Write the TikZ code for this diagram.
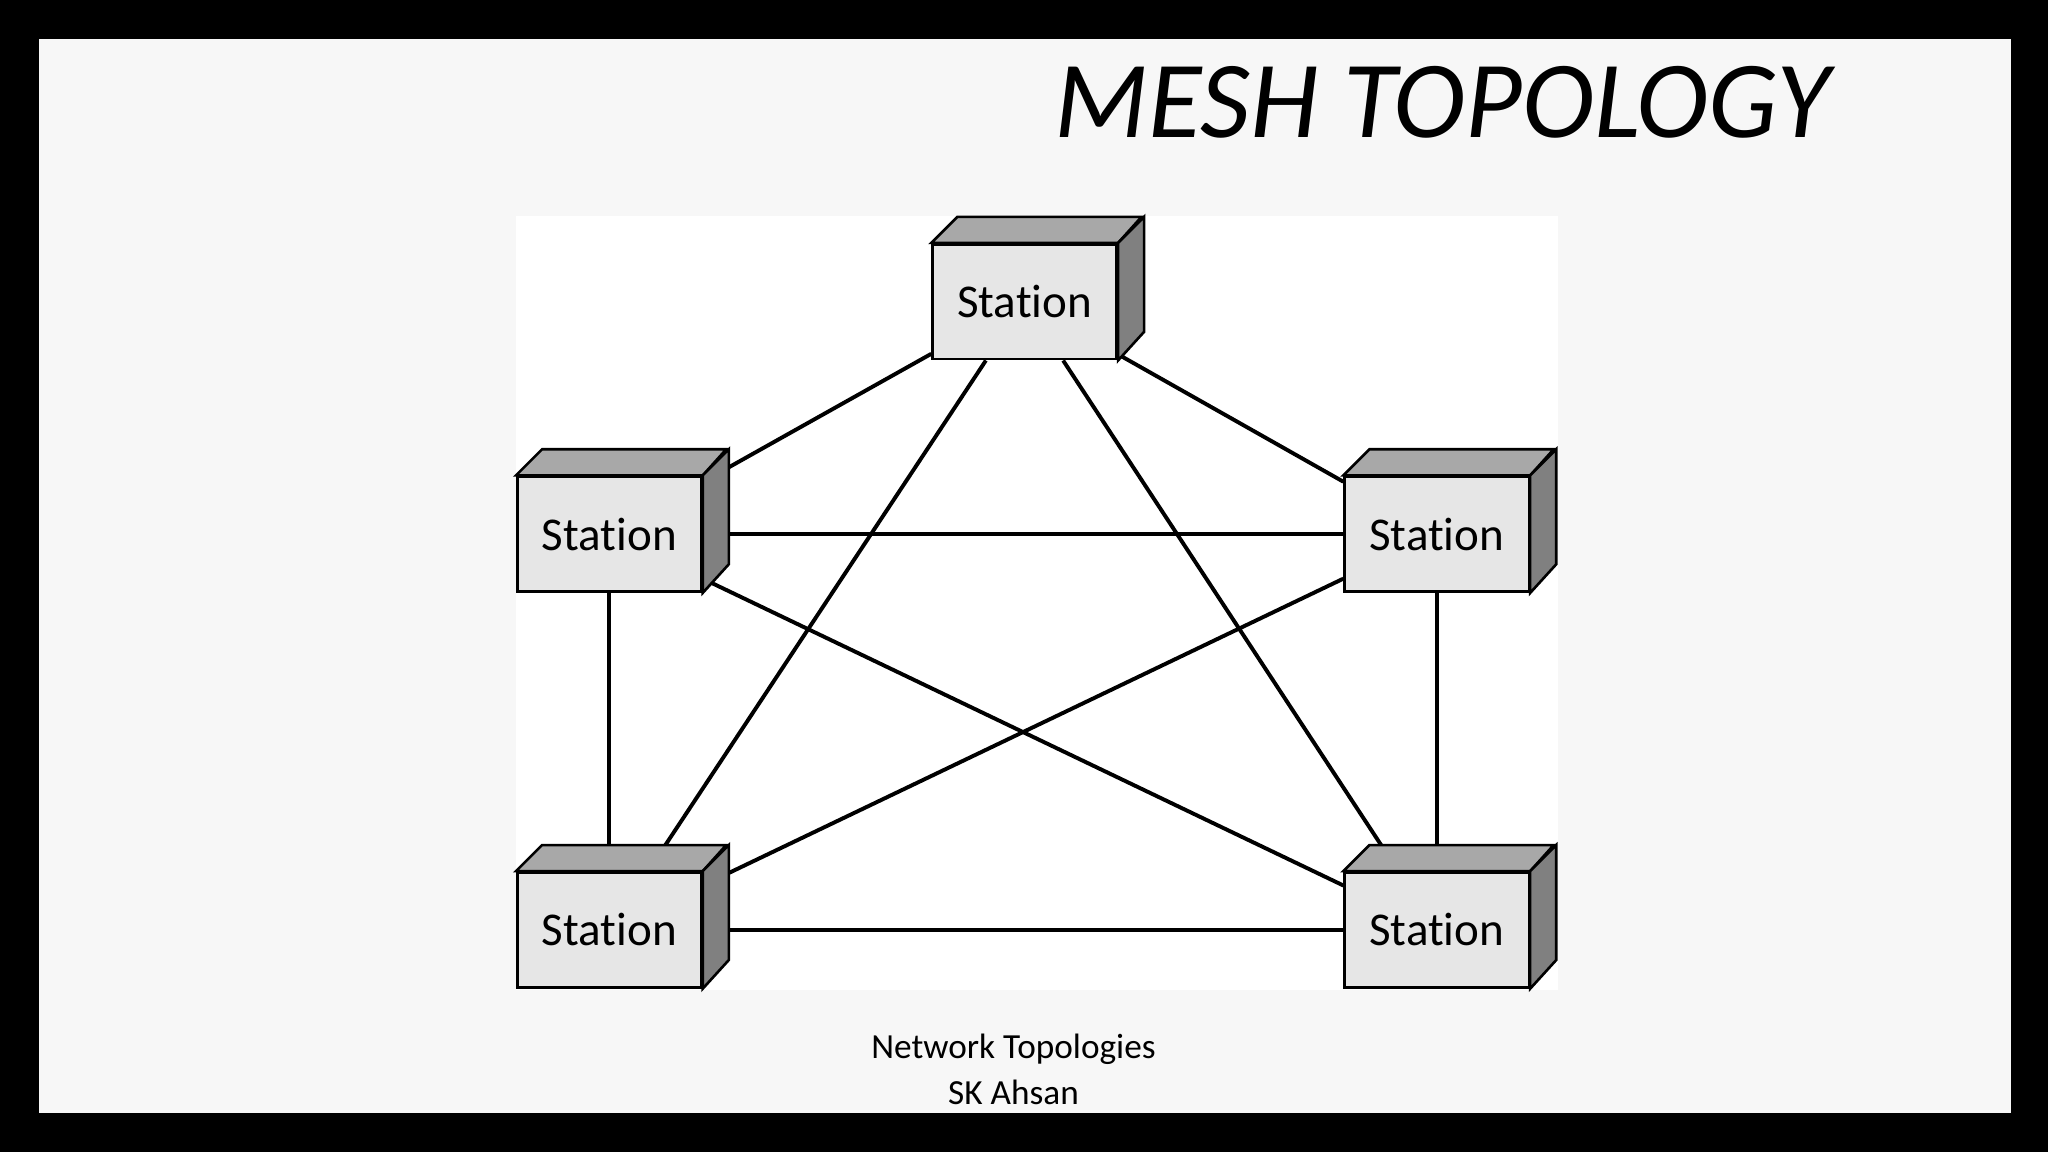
\documentclass[tikz,border=0pt]{standalone}
\usepackage{fontspec}
\setmainfont{Carlito}[Ligatures={NoCommon,NoRare,NoContextual}]
\usetikzlibrary{backgrounds}
\definecolor{slide}{HTML}{F7F7F7}
\definecolor{front}{HTML}{E6E6E6}
\definecolor{topface}{HTML}{A8A8A8}
\definecolor{sideface}{HTML}{808080}
\tikzset{
  station/.style={draw, line width=2pt, fill=front, minimum width=141pt, minimum height=88pt,
    inner sep=0pt, font=\fontsize{36}{42}\selectfont},
  link/.style={line width=3pt}
}
\newcommand{\boxdepth}[1]{%
  \draw[line width=2pt, fill=topface] (#1.north west) -- ++(20,-20) -- ++(141,0) -- (#1.north east) -- cycle;
  \draw[line width=2pt, fill=sideface] (#1.north east) -- ++(20,-20) -- ++(0,88) -- (#1.south east) -- cycle;
}
\begin{document}
\begin{tikzpicture}[x=1pt,y=1pt,yscale=-1]
	\useasboundingbox (0,0) rectangle (1568,882);

	% title
	\node (title) at (1104,78) {\fontsize{84}{94}\selectfont\itshape MESH TOPOLOGY};

	% stations
	\node[station] (top) at (784.5,231) {Station};
	\node[station] (left) at (466.5,409) {Station};
	\node[station] (right) at (1100,409) {Station};
	\node[station] (bl) at (466.5,712) {Station};
	\node[station] (br) at (1100,712) {Station};
	\boxdepth{top}
	\boxdepth{left}
	\boxdepth{right}
	\boxdepth{bl}
	\boxdepth{br}

	% links
	\begin{scope}[on background layer]
	\fill[black] (0,0) rectangle (1568,882);
	\fill[slide] (30,30) rectangle (1540,852);
	\fill[white] (395,165) rectangle (1193,758);
	\draw[link] (top) -- (left);
	\draw[link] (top) -- (right);
	\draw[link] (top) -- (bl);
	\draw[link] (top) -- (br);
	\draw[link] (left) -- (right);
	\draw[link] (left) -- (bl);
	\draw[link] (left) -- (br);
	\draw[link] (right) -- (bl);
	\draw[link] (right) -- (br);
	\draw[link] (bl) -- (br);
	\end{scope}

	% footer
	\node[align=center, font=\fontsize{27}{35}\selectfont] (footer) at (776,819) {Network Topologies\\SK Ahsan};
\end{tikzpicture}
\end{document}
